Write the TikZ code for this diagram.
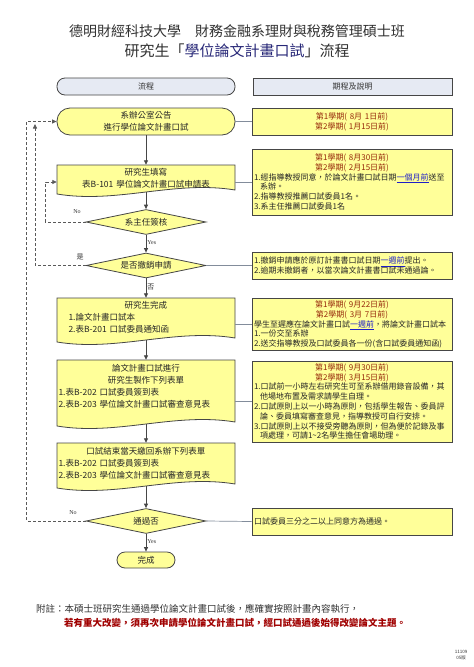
\documentclass[tikz,border=0pt]{standalone}
\usepackage{fontspec}
\setmainfont{Noto Sans CJK TC}
\newfontfamily\lblfont{Liberation Serif}
\usetikzlibrary{shapes.geometric,arrows.meta}
\definecolor{fillY}{RGB}{255,255,153}
\definecolor{hdrfill}{RGB}{230,234,243}
\definecolor{bord}{RGB}{70,70,70}
\definecolor{termc}{RGB}{150,40,10}
\definecolor{linkc}{RGB}{130,140,155}
\definecolor{navyc}{RGB}{40,40,120}
\definecolor{titlec}{RGB}{50,50,50}
\definecolor{notered}{RGB}{160,0,0}
\definecolor{ulblue}{RGB}{30,30,200}
\newcommand\docshape[4]{\filldraw[docline] (#1,#2) -- (#3,#2) -- (#3,#4-2) .. controls ({#3-60},#4-12) and ({#1+60},#4+12) .. (#1,#4+2) -- cycle;}
\newcommand\ulb[1]{\textcolor{ulblue}{\underline{#1}}}
\begin{document}
\begin{tikzpicture}[x=1pt,y=-1pt,
  docline/.style={draw=bord,fill=fillY,line width=0.8pt},
  hdrL/.style={draw=bord,fill=hdrfill,rounded corners=8pt,minimum width=178pt,minimum height=17pt,line width=0.8pt,inner sep=0pt,font=\fontsize{8}{9}\selectfont,text=titlec},
  hdrR/.style={draw=bord,fill=hdrfill,minimum width=199pt,minimum height=17pt,line width=0.8pt,inner sep=0pt,font=\fontsize{8}{9}\selectfont,text=titlec},
  term/.style={draw=bord,fill=fillY,rounded corners=13pt,minimum width=178pt,minimum height=27pt,line width=0.8pt,inner sep=1pt,align=center,font=\fontsize{8.5}{12}\selectfont,text=black!85},
  lnode/.style={inner sep=1.5pt,text width=175pt,font=\fontsize{8.5}{12}\selectfont,text=black!85},
  dec/.style={diamond,draw=bord,fill=fillY,line width=0.8pt,minimum width=120pt,minimum height=25pt,inner sep=0pt,shape aspect=4.8,font=\fontsize{8.5}{10}\selectfont,text=black!85},
  rbox/.style={draw=bord,fill=fillY,line width=0.8pt,text width=196pt,inner sep=2pt,font=\fontsize{8}{9.8}\selectfont,text=black!85},
  flow/.style={draw=bord,line width=0.8pt,-{Triangle[length=4.5pt,width=4pt]}},
  link/.style={draw=linkc,line width=0.7pt},
  loopl/.style={draw=bord!90,line width=0.8pt,dash pattern=on 3pt off 2pt,-{Triangle[length=4.5pt,width=4pt]}},
  lbl/.style={font=\lblfont\fontsize{6}{7}\selectfont,text=black!80,inner sep=1pt},
  lblc/.style={font=\fontsize{7}{8}\selectfont,text=black!80,inner sep=1pt}
]
\useasboundingbox (0,0) rectangle (474,667);
\fill[white] (0,0) rectangle (474,667);

% title
\node[font=\fontsize{14}{16}\selectfont,text=titlec] (t1) at (237,31) {德明財經科技大學　財務金融系理財與稅務管理碩士班};
\node[font=\fontsize{15}{17}\selectfont,text=titlec] (t2) at (237,51) {研究生「\textcolor{navyc}{學位論文計畫口試}」流程};

% headers
\node[hdrL] (h1) at (146,86.5) {流程};
\node[hdrR] (h2) at (352.5,86.5) {期程及說明};

% right boxes
\node[rbox,minimum height=27pt] (r1) at (352,121.5) {\centering\color{termc}第1學期( 8月 1日前)\\第2學期( 1月15日前)\par};
\node[rbox,minimum height=66pt] (r2) at (352,182) {\centering{\color{termc}第1學期( 8月30日前)\\第2學期( 2月15日前)}\par\raggedright 1.經指導教授同意，於論文計畫口試日期\ulb{一個月前}送至\\\hspace*{6pt}系辦。\\2.指導教授推薦口試委員1名。\\3.系主任推薦口試委員1名\par};
\node[rbox,minimum height=27pt] (rc) at (352,265.5) {\raggedright 1.撤銷申請應於原訂計畫書口試日期\ulb{一週前}提出。\\2.逾期未撤銷者，以當次論文計畫書口試未通過論。\par};
\node[rbox,minimum height=51pt] (r3) at (352,324.5) {\centering{\color{termc}第1學期( 9月22日前)\\第2學期( 3月 7日前)}\par\raggedright 學生至遲應在論文計畫口試\ulb{一週前}，將論文計畫口試本\\1.一份交至系辦\\2.送交指導教授及口試委員各一份(含口試委員通知函)\par};
\node[rbox,minimum height=81pt] (r4) at (352,401.5) {\centering{\color{termc}第1學期( 9月30日前)\\第2學期( 3月15日前)}\par\raggedright 1.口試前一小時左右研究生可至系辦借用錄音設備，其\\\hspace*{6pt}他場地布置及需求請學生自理。\\2.口試原則上以一小時為原則，包括學生報告、委員評\\\hspace*{6pt}論、委員填寫審查意見，指導教授可自行安排。\\3.口試原則上以不接受旁聽為原則，但為便於記錄及事\\\hspace*{6pt}項處理，可請1\textasciitilde2名學生擔任會場助理。\par};
\node[rbox,minimum height=27pt] (r5) at (352,521.5) {\raggedright 口試委員三分之二以上同意方為通過。\par};

% left column
\node[term] (n1) at (146,121.5) {系辦公室公告\\進行學位論文計畫口試};

\docshape{57}{165}{235}{192}
\node[lnode,align=center,minimum height=26pt] (n2) at (146,178) {研究生填寫\\表B-101 學位論文計畫口試申請表};
\coordinate (n2b) at (146,192);

\node[dec] (d1) at (146,222) {系主任簽核};
\node[dec] (d2) at (146,265.5) {是否撤銷申請};

\docshape{57}{298}{235}{340}
\node[lnode,minimum height=38pt] (n3) at (146,317) {\centering 研究生完成\par\raggedright\hspace*{10pt}1.論文計畫口試本\\\hspace*{10pt}2.表B-201 口試委員通知函\par};
\coordinate (n3b) at (146,340);

\docshape{57}{360}{235}{424}
\node[lnode,minimum height=52pt] (n4) at (146,386) {\centering 論文計畫口試進行\\研究生製作下列表單\par\raggedright 1.表B-202 口試委員簽到表\\2.表B-203 學位論文計畫口試審查意見表\par};
\coordinate (n4b) at (146,424);

\docshape{57}{443}{235}{486}
\node[lnode,minimum height=40pt] (n5) at (146,463) {\centering 口試結束當天繳回系辦下列表單\par\raggedright 1.表B-202 口試委員簽到表\\2.表B-203 學位論文計畫口試審查意見表\par};
\coordinate (n5b) at (146,486);

\node[dec] (d3) at (146,521) {通過否};
\node[term,minimum width=58pt,minimum height=16pt,rounded corners=8pt] (fin) at (146,560) {完成};

% main flow
\draw[flow] (n1) -- (n2.north);
\draw[flow] (n2b) -- (d1);
\draw[flow] (d1) -- node[lbl,right,pos=0.45] {Yes} (d2);
\draw[flow] (d2) -- node[lblc,right,pos=0.45] {否} (n3.north);
\draw[flow] (n3b) -- (n4.north);
\draw[flow] (n4b) -- (n5.north);
\draw[flow] (n5b) -- (d3);
\draw[flow] (d3) -- node[lbl,right,pos=0.45] {Yes} (fin);

% links to notes
\draw[link] (r1.west) -- (r1.west -| n1.east);
\draw[link] (r2.west) -- (r2.west -| n2.east);
\draw[link] (rc.west) -- (d2.east);
\draw[link] (r3.west) -- (r3.west -| n3.east);
\draw[link] (r4.west) -- (r4.west -| n4.east);
\draw[link] (r5.west) -- (d3.east);

% loops
\draw[loopl] (d1.west) -- ++(-40,0) |- ([yshift=-4pt]n2.west);
\node[lbl] (no1) at (77,212) {No};
\coordinate (j1) at (35,124);
\draw[loopl] (d2.west) -| (j1);
\node[lblc] (yes2) at (80,257) {是};
\draw[loopl] (d3.west) -- ++(-59,0) |- (n1.west);
\node[lbl] (no3) at (73,513) {No};

% footnote
\node[anchor=west,inner sep=0pt,font=\fontsize{9.5}{11}\selectfont,text=titlec] (f1) at (36,609) {附註：本碩士班研究生通過學位論文計畫口試後，應確實按照計畫內容執行，};
\node[anchor=west,inner sep=0pt,font=\fontsize{9.5}{11}\selectfont\bfseries,text=notered] (f2) at (64,623) {若有重大改變，須再次申請學位論文計畫口試，經口試通過後始得改變論文主題。};
\node[align=center,inner sep=0pt,font=\fontsize{4.5}{5.5}\selectfont,text=titlec] (ver) at (461,655) {11109\\05版};
\end{tikzpicture}
\end{document}
